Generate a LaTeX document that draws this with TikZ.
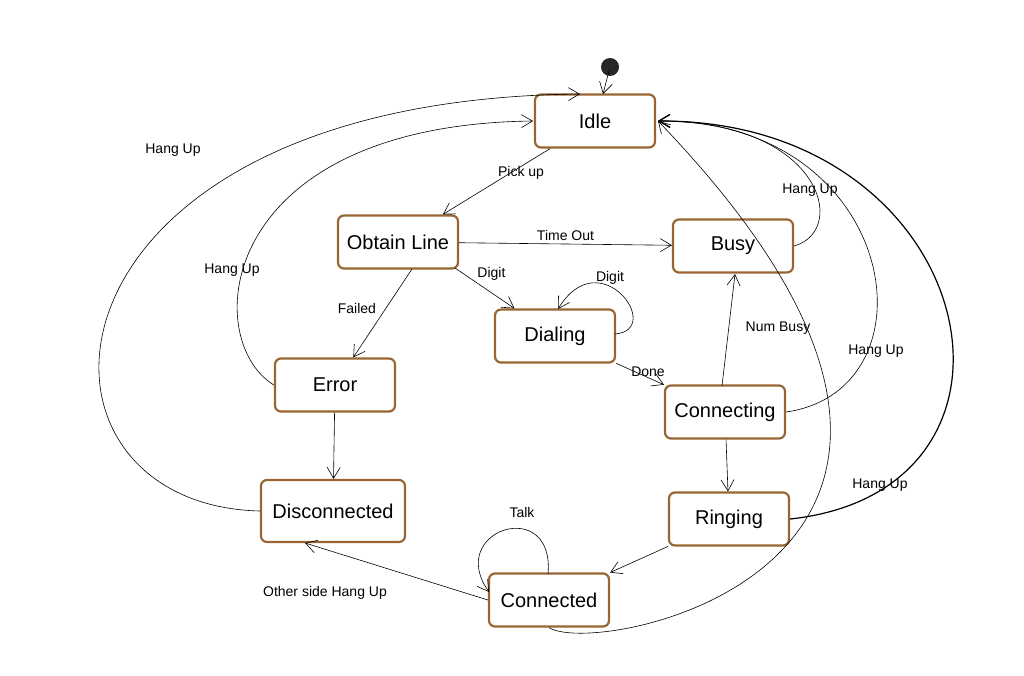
\documentclass[tikz,border=0pt]{standalone}
\usepackage{fontspec}
\setmainfont{Liberation Sans}
\usetikzlibrary{arrows.meta}
\begin{document}
\begin{tikzpicture}[x=1pt,y=-1pt,
  st/.style={draw=brown!80!black,line width=2.2pt,rounded corners=6pt,minimum width=120pt,minimum height=53pt,font=\fontsize{20}{22}\selectfont,inner sep=2pt},
  lb/.style={font=\fontsize{14}{16}\selectfont},
  ar/.style={-{Straight Barb[length=11pt,width=13pt]},line width=0.6pt}]
\useasboundingbox (0,0) rectangle (1024,676);
\fill[black!85] (610,67) circle (9) node (init) {};
\node[st] (idle) at (595,121) {Idle};
\node[st] (obt) at (398,242) {Obtain Line};
\node[st] (busy) at (733,246) {Busy};
\node[st] (dial) at (555,336) {Dialing};
\node[st] (err) at (335,385) {Error};
\node[st] (conn) at (725,412) {Connecting};
\node[st,minimum width=144pt,minimum height=62pt] (disc) at (333,511) {Disconnected};
\node[st] (ring) at (729,519) {Ringing};
\node[st] (cted) at (549,600) {Connected};
\coordinate (idleL) at (533,121);
\coordinate (idleT) at (580,94);
\coordinate (idleR) at (658,121);
\draw[ar] (init) -- (603,94);
\draw[ar] (idle) -- (obt) node[lb,pos=.5,above right=-2pt] {Pick up};
\draw[ar] (obt) -- (busy) node[lb,midway,above] {Time Out};
\draw[ar] (455,268) -- (dial) node[lb,pos=.35,above right=-2pt] {Digit};
\draw[ar] (412,269) -- (err) node[lb,pos=.45,left=6pt] {Failed};
\draw[ar] (615,334) .. controls (665,330) and (600,240) .. (558,309) node[lb] at (610,278) {Digit};
\draw[ar] (err.west) .. controls (200,340) and (215,125) .. (idleL) node[lb] at (232,270) {Hang Up};
\draw[ar] (err) -- (disc);
\draw[ar] (disc.west) .. controls (0,505) and (20,100) .. (idleT) node[lb] at (173,150) {Hang Up};
\draw[ar] (dial) -- (conn) node[lb] at (648,372) {Done};
\draw[ar] (722,386) -- (735,274) node[lb] at (778,328) {Num Busy};
\draw[ar] (busy.east) .. controls (850,230) and (820,120) .. (idleR) node[lb] at (810,190) {Hang Up};
\draw[ar] (conn.east) .. controls (940,390) and (900,120) .. (idleR) node[lb] at (876,351) {Hang Up};
\draw[ar] (conn) -- (ring);
\draw[ar,line width=1.2pt] (ring.east) .. controls (1060,490) and (980,120) .. (idleR) node[lb] at (880,485) {Hang Up};
\draw[ar] (ring) -- (cted);
\draw[ar] (548,574) .. controls (555,495) and (445,530) .. (489,592) node[lb] at (522,512) {Talk};
\draw[ar] (cted.south) .. controls (600,660) and (1080,560) .. (idleR);
\draw[ar] (cted.west) -- (305,543) node[lb] at (325,593) {Other side Hang Up};
\end{tikzpicture}
\end{document}
